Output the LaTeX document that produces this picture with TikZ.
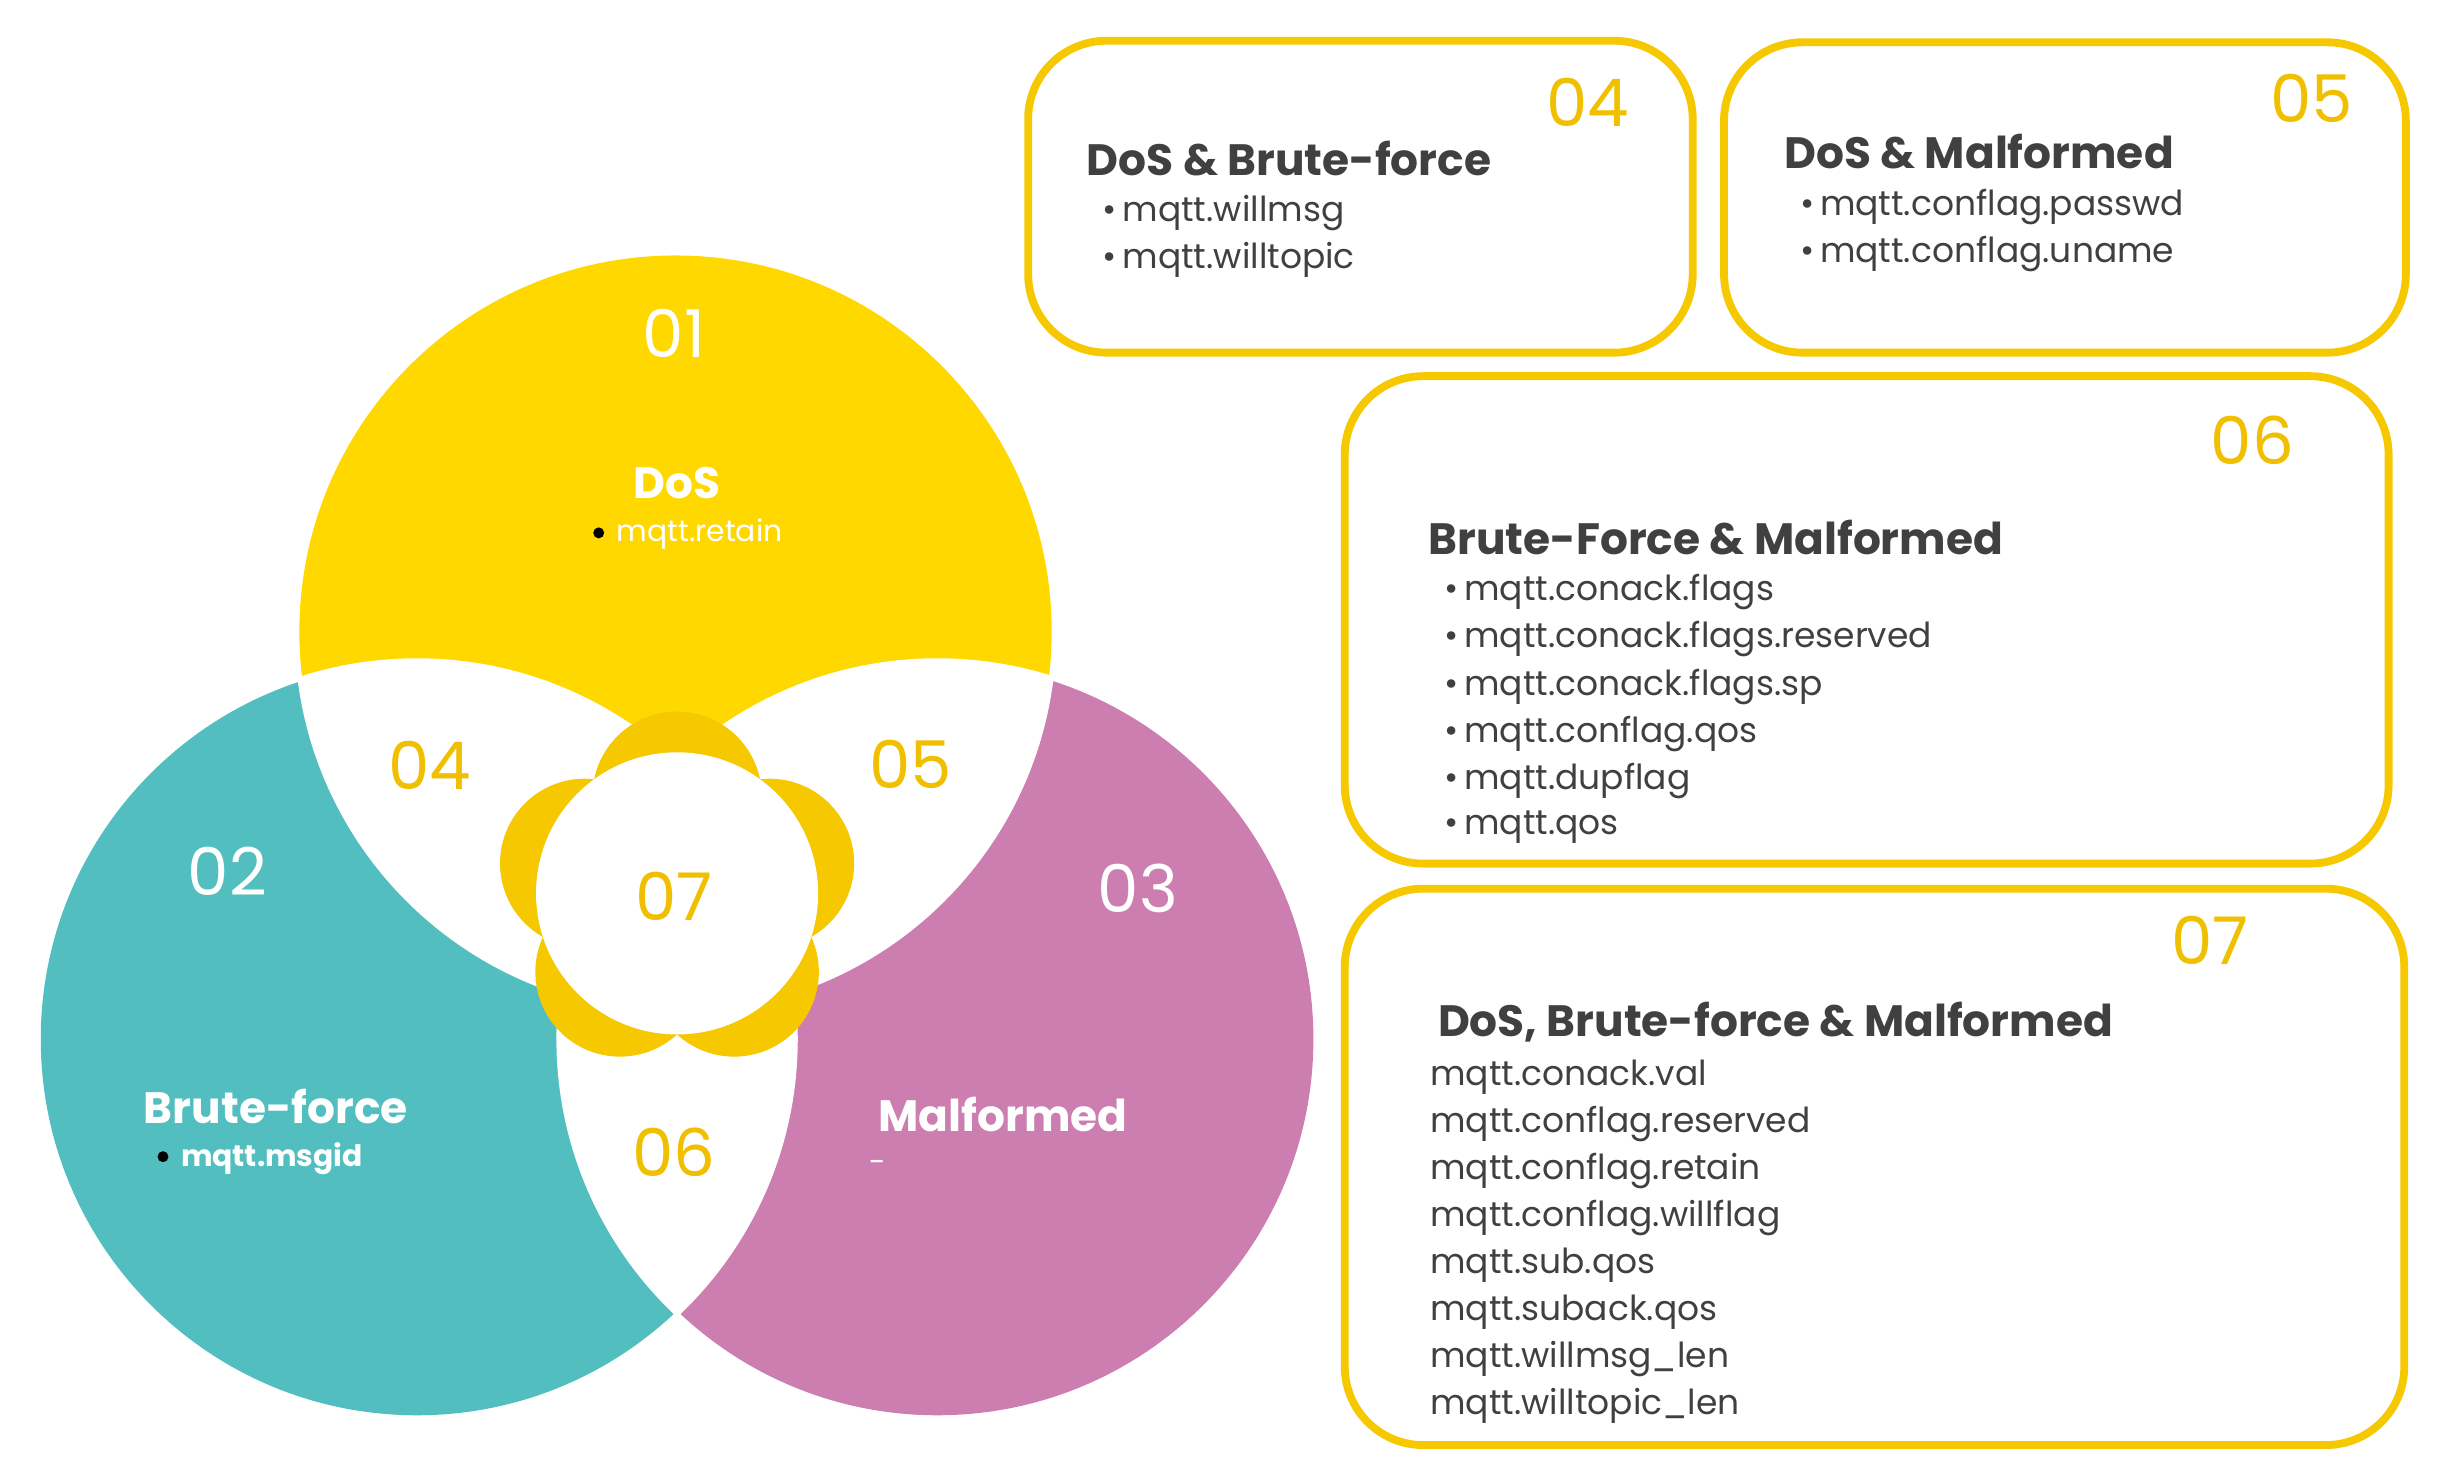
\documentclass[tikz,border=0pt]{standalone}
\usepackage{fontspec}
\setmainfont{Poppins}
\usetikzlibrary{calc}
\definecolor{cyel}{HTML}{FFD800}
\definecolor{cteal}{HTML}{52BEC0}
\definecolor{cpink}{HTML}{CC7EB0}
\definecolor{cpet}{HTML}{F5C800}
\definecolor{cnum}{HTML}{F0C000}
\definecolor{cdark}{HTML}{404040}
\begin{document}
\begin{tikzpicture}[x=1pt,y=-1pt,
  bigw/.style={text=white,font=\fontsize{42}{46}\selectfont},
  numy/.style={text=cnum,font=\fontsize{42}{46}\selectfont},
  ctitle/.style={text=white,font=\bfseries\fontsize{28}{32}\selectfont},
  citem/.style={text=white,font=\fontsize{19}{22}\selectfont},
  box/.style={draw=cpet,line width=5pt,rounded corners=50pt},
  btitle/.style={anchor=west,text=cdark,font=\bfseries\fontsize{28}{32}\selectfont},
  bitem/.style={anchor=west,text=cdark,font=\fontsize{22}{26}\selectfont},
  bnum/.style={text=cnum,font=\fontsize{42}{46}\selectfont}]
\useasboundingbox (0,0) rectangle (1560,944);
\coordinate (Y) at (431,403);
\coordinate (T) at (266,663);
\coordinate (P) at (598,663);
\fill[cyel] (Y) circle (240);
\fill[cteal] (T) circle (240);
\fill[cpink] (P) circle (240);
\begin{scope}\clip (Y) circle (243); \fill[white] (T) circle (243);\end{scope}
\begin{scope}\clip (Y) circle (243); \fill[white] (P) circle (243);\end{scope}
\begin{scope}\clip (T) circle (243); \fill[white] (P) circle (243);\end{scope}
\coordinate (C) at (432,570);
\foreach \a in {90,162,234,306,18}{\fill[cpet] ($(C)+(\a:-62)$) circle (54);}
\fill[white] (C) circle (90);
\node[bigw] (n01) at (430,213) {01};
\node[ctitle] (tdos) at (432,308) {DoS};
\node[citem,anchor=west] (idos) at (390,341) {mqtt.retain};
\fill[black] (382,340) circle (3.5);
\node[bigw] (n02) at (145,556) {02};
\node[ctitle] (tbf) at (176,706) {Brute-force};
\node[citem,anchor=west,font=\bfseries\fontsize{19}{22}\selectfont] (ibf) at (112,739) {mqtt.msgid};
\fill[black] (104,738) circle (3.5);
\node[bigw] (n03) at (726,567) {03};
\node[ctitle] (tmal) at (640,711) {Malformed};
\node[citem,anchor=west] (imal) at (551,744) {-};
\node[numy] (n04) at (274,488) {04};
\node[numy] (n05) at (581,488) {05};
\node[numy] (n06) at (430,735) {06};
\node[numy] (n07) at (430,572) {07};
% boxes
\draw[box] (656,26) rectangle (1080,225);
\node[bnum] (b04) at (1013,65) {04};
\node[btitle] (t04) at (690,101) {DoS \& Brute-force};
\foreach \t [count=\i from 0] in {mqtt.willmsg,mqtt.willtopic}
  {\node[bitem] (a\i) at (700,136+30*\i) {\textbullet\,\t};}
\draw[box] (1100,27) rectangle (1535,225);
\node[bnum] (b05) at (1475,63) {05};
\node[btitle] (t05) at (1135,97) {DoS \& Malformed};
\foreach \t [count=\i from 0] in {mqtt.conflag.passwd,mqtt.conflag.uname}
  {\node[bitem] (b\i) at (1145,132+30*\i) {\textbullet\,\t};}
\draw[box] (858,240) rectangle (1524,551);
\node[bnum] (b06) at (1437,281) {06};
\node[btitle] (t06) at (908,343) {Brute-Force \& Malformed};
\foreach \t [count=\i from 0] in {mqtt.conack.flags,mqtt.conack.flags.reserved,mqtt.conack.flags.sp,mqtt.conflag.qos,mqtt.dupflag,mqtt.qos}
  {\node[bitem] (c\i) at (918,378+30*\i) {\textbullet\,\t};}
\draw[box] (858,567) rectangle (1534,922);
\node[bnum] (b07) at (1410,600) {07};
\node[btitle] (t07) at (914,652) {DoS, Brute-force \& Malformed};
\foreach \t [count=\i from 0] in {mqtt.conack.val,mqtt.conflag.reserved,mqtt.conflag.retain,mqtt.conflag.willflag,mqtt.sub.qos,mqtt.suback.qos,mqtt.willmsg\_len,mqtt.willtopic\_len}
  {\node[bitem] (d\i) at (909,687+30*\i) {\t};}
\end{tikzpicture}
\end{document}
